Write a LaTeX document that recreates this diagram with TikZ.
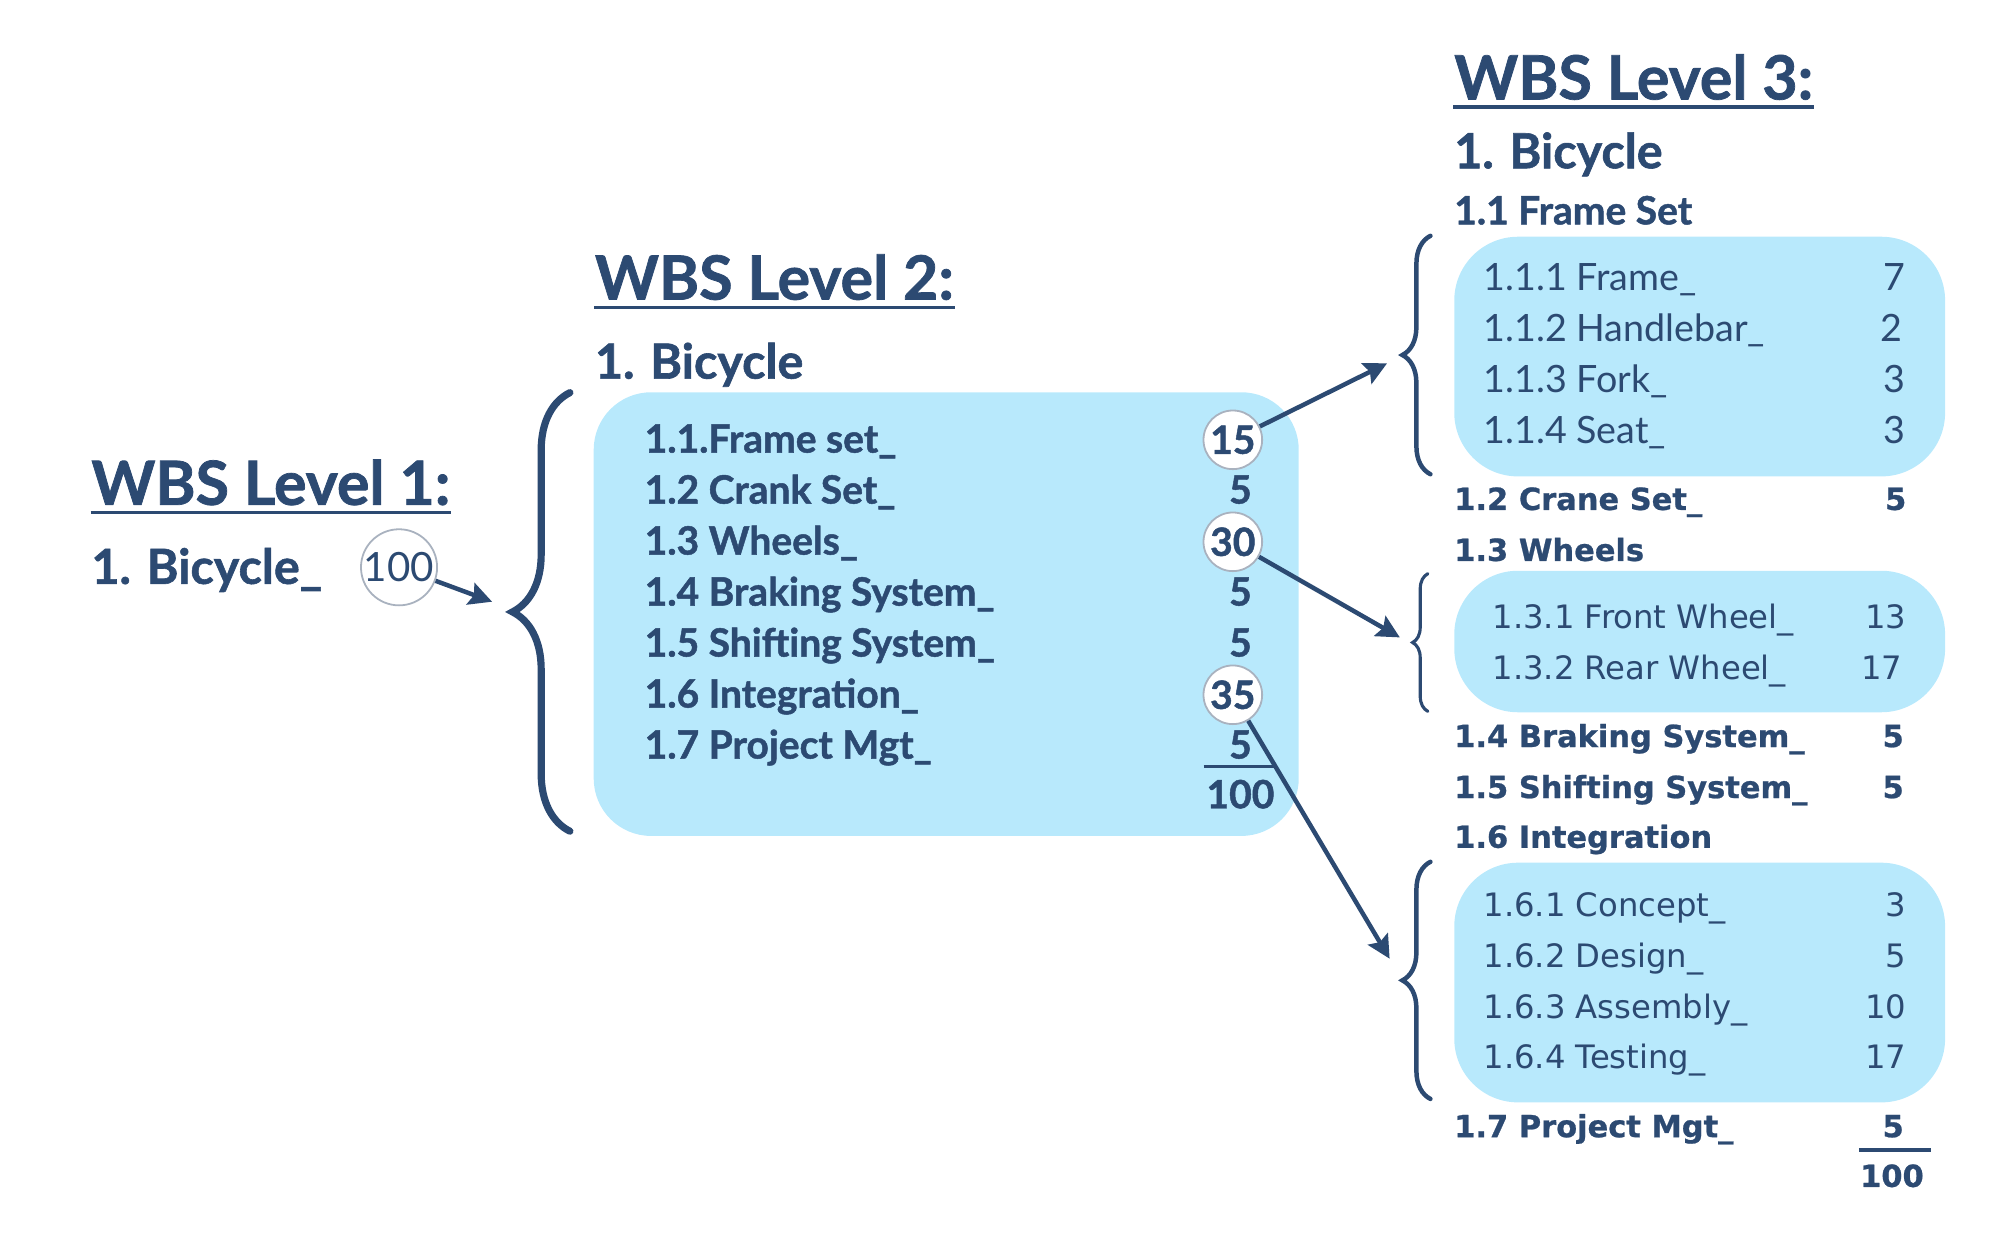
\documentclass[tikz,border=0pt]{standalone}
\usepackage{fontspec}
\setmainfont{Lato}[BoldFeatures={FakeBold=1.2}]
\newfontfamily\widefont{DejaVu Sans}[BoldFeatures={FakeBold=0.8}]
\usetikzlibrary{positioning, arrows.meta, decorations.pathreplacing}

\definecolor{navy}{HTML}{2C4A72}
\definecolor{boxblue}{HTML}{B8E9FC}
\definecolor{ringgray}{HTML}{A9B2BF}

\begin{document}
\begin{tikzpicture}[
    % Texts
    heading/.style={font=\fontsize{13.6}{16}\selectfont\bfseries, text=navy, inner sep=0pt, anchor=base west},
    title/.style={font=\fontsize{10.8}{13}\selectfont\bfseries, text=navy, inner sep=0pt, anchor=base west},
    item/.style={font=\fontsize{8.7}{10}\selectfont\bfseries, text=navy, inner sep=0pt},
    subitem/.style={font=\fontsize{8.4}{10}\selectfont, text=navy, inner sep=0pt},
    wideitem/.style={font=\widefont\fontsize{6.8}{8}\selectfont\bfseries, text=navy, inner sep=0pt},
    widesub/.style={font=\widefont\fontsize{7.2}{9}\selectfont, text=navy, inner sep=0pt},
    % Light blue panels
    panel/.style={fill=boxblue, rounded corners=0.5cm, anchor=north west, inner sep=0pt},
    % Circled totals
    ring/.style={circle, draw=ringgray, fill=white, line width=0.4pt, inner sep=0pt, minimum size=0.46cm},
    % Lines
    connection/.style={-{Stealth[length=1.8mm, width=1.8mm, inset=0.3mm]}, line width=1pt, draw=navy},
    bracket/.style={decorate, decoration={brace, amplitude=#1}, draw=navy, line cap=round},
    sumrule/.style={draw=navy, line width=0.7pt}
]
    \useasboundingbox (0,0) rectangle (15.68,-9.74);

    % --- LEVEL 1 ---
    \node[heading] (h1) at (0.71,-3.96) {WBS Level 1:};
    \draw[sumrule] ([yshift=-0.06cm]h1.base west) -- ([yshift=-0.06cm]h1.base east);
    \node[title] (bike1) at (0.71,-4.58) {1. Bicycle\_};
    \node[ring, minimum size=0.58cm, font=\fontsize{9}{10}\selectfont, text=navy] (c100) at (3.13,-4.45) {100};
    \coordinate (tipL2) at (3.86,-4.72);
    \draw[connection] (c100) -- (tipL2);

    % --- LEVEL 2 ---
    \node[heading] (h2) at (4.66,-2.35) {WBS Level 2:};
    \draw[sumrule] ([yshift=-0.06cm]h2.base west) -- ([yshift=-0.06cm]h2.base east);
    \node[title] (bike2) at (4.66,-2.97) {1. Bicycle};
    \draw[bracket=0.45cm, line width=1.6pt] (4.47,-6.52) -- (4.47,-3.08);
    \node[panel, rounded corners=0.45cm, minimum width=5.53cm, minimum height=3.48cm] (box2) at (4.65,-3.07) {};

    \node[item, anchor=base west] (a11) at (5.05,-3.55) {1.1.Frame set\_};
    \node[item, anchor=base west] (a12) at (5.05,-3.95) {1.2 Crank Set\_};
    \node[item, anchor=base west] (a13) at (5.05,-4.35) {1.3 Wheels\_};
    \node[item, anchor=base west] (a14) at (5.05,-4.75) {1.4 Braking System\_};
    \node[item, anchor=base west] (a15) at (5.05,-5.15) {1.5 Shifting System\_};
    \node[item, anchor=base west] (a16) at (5.05,-5.55) {1.6 Integration\_};
    \node[item, anchor=base west] (a17) at (5.05,-5.95) {1.7 Project Mgt\_};

    \node[ring, item] (c15) at (9.67,-3.45) {15};
    \node[item, anchor=base] (n12) at (9.73,-3.95) {5};
    \node[ring, item] (c30) at (9.67,-4.25) {30};
    \node[item, anchor=base] (n14) at (9.73,-4.75) {5};
    \node[item, anchor=base] (n15) at (9.73,-5.15) {5};
    \node[ring, item] (c35) at (9.67,-5.45) {35};
    \node[item, anchor=base] (n17) at (9.73,-5.95) {5};
    \draw[sumrule] (9.44,-6.01) -- (10.00,-6.01);
    \node[item, anchor=base] (tot2) at (9.73,-6.34) {100};

    % --- LEVEL 3 ---
    \node[heading] (h3) at (11.40,-0.78) {WBS Level 3:};
    \draw[sumrule] ([yshift=-0.06cm]h3.base west) -- ([yshift=-0.06cm]h3.base east);
    \node[title] (bike3) at (11.40,-1.32) {1. Bicycle};
    \node[item, anchor=base west] (b11) at (11.40,-1.76) {1.1 Frame Set};

    % Frame set
    \draw[bracket=0.22cm, line width=1pt] (11.22,-3.72) -- (11.22,-1.85);
    \node[panel, minimum width=3.85cm, minimum height=1.88cm] (box31) at (11.40,-1.85) {};
    \node[subitem, anchor=base west] (b111) at (11.63,-2.28) {1.1.1 Frame\_};
    \node[subitem, anchor=base west] (b112) at (11.63,-2.68) {1.1.2 Handlebar\_};
    \node[subitem, anchor=base west] (b113) at (11.63,-3.08) {1.1.3 Fork\_};
    \node[subitem, anchor=base west] (b114) at (11.63,-3.48) {1.1.4 Seat\_};
    \node[subitem, anchor=base east] (m111) at (14.95,-2.28) {7};
    \node[subitem, anchor=base east] (m112) at (14.93,-2.68) {2};
    \node[subitem, anchor=base east] (m113) at (14.95,-3.08) {3};
    \node[subitem, anchor=base east] (m114) at (14.95,-3.48) {3};

    \node[wideitem, anchor=base west] (b12) at (11.40,-4.00) {1.2 Crane Set\_};
    \node[wideitem, anchor=base east] (m12) at (14.96,-4.00) {5};
    \node[wideitem, anchor=base west] (b13) at (11.40,-4.40) {1.3 Wheels};

    % Wheels
    \draw[bracket=0.12cm, line width=0.7pt] (11.20,-5.58) -- (11.20,-4.50);
    \node[panel, minimum width=3.85cm, minimum height=1.11cm] (box32) at (11.40,-4.47) {};
    \node[widesub, anchor=base west] (b131) at (11.70,-4.93) {1.3.1 Front Wheel\_};
    \node[widesub, anchor=base west] (b132) at (11.70,-5.33) {1.3.2 Rear Wheel\_};
    \node[widesub, anchor=base east] (m131) at (14.96,-4.93) {13};
    \node[widesub, anchor=base east] (m132) at (14.93,-5.33) {17};

    \node[wideitem, anchor=base west] (b14) at (11.40,-5.86) {1.4 Braking System\_};
    \node[wideitem, anchor=base east] (m14) at (14.94,-5.86) {5};
    \node[wideitem, anchor=base west] (b15) at (11.40,-6.26) {1.5 Shifting System\_};
    \node[wideitem, anchor=base east] (m15) at (14.94,-6.26) {5};
    \node[wideitem, anchor=base west] (b16) at (11.40,-6.65) {1.6 Integration};

    % Integration
    \draw[bracket=0.22cm, line width=1pt] (11.22,-8.62) -- (11.22,-6.76);
    \node[panel, minimum width=3.85cm, minimum height=1.88cm] (box33) at (11.40,-6.76) {};
    \node[widesub, anchor=base west] (b161) at (11.63,-7.19) {1.6.1 Concept\_};
    \node[widesub, anchor=base west] (b162) at (11.63,-7.59) {1.6.2 Design\_};
    \node[widesub, anchor=base west] (b163) at (11.63,-7.99) {1.6.3 Assembly\_};
    \node[widesub, anchor=base west] (b164) at (11.63,-8.38) {1.6.4 Testing\_};
    \node[widesub, anchor=base east] (m161) at (14.96,-7.19) {3};
    \node[widesub, anchor=base east] (m162) at (14.96,-7.59) {5};
    \node[widesub, anchor=base east] (m163) at (14.96,-7.99) {10};
    \node[widesub, anchor=base east] (m164) at (14.96,-8.38) {17};

    \node[wideitem, anchor=base west] (b17) at (11.40,-8.92) {1.7 Project Mgt\_};
    \node[wideitem, anchor=base] (m17) at (14.85,-8.92) {5};
    \draw[sumrule] (14.58,-9.02) -- (15.15,-9.02);
    \node[wideitem, anchor=base] (tot3) at (14.84,-9.31) {100};

    % --- LINKS LEVEL 2 -> LEVEL 3 ---
    \coordinate (tipA) at (10.88,-2.85);
    \coordinate (tipB) at (10.98,-5.00);
    \coordinate (tipC) at (10.90,-7.52);
    \draw[connection] (c15) -- (tipA);
    \draw[connection] (c30) -- (tipB);
    \draw[connection] (c35) -- (tipC);

\end{tikzpicture}
\end{document}
